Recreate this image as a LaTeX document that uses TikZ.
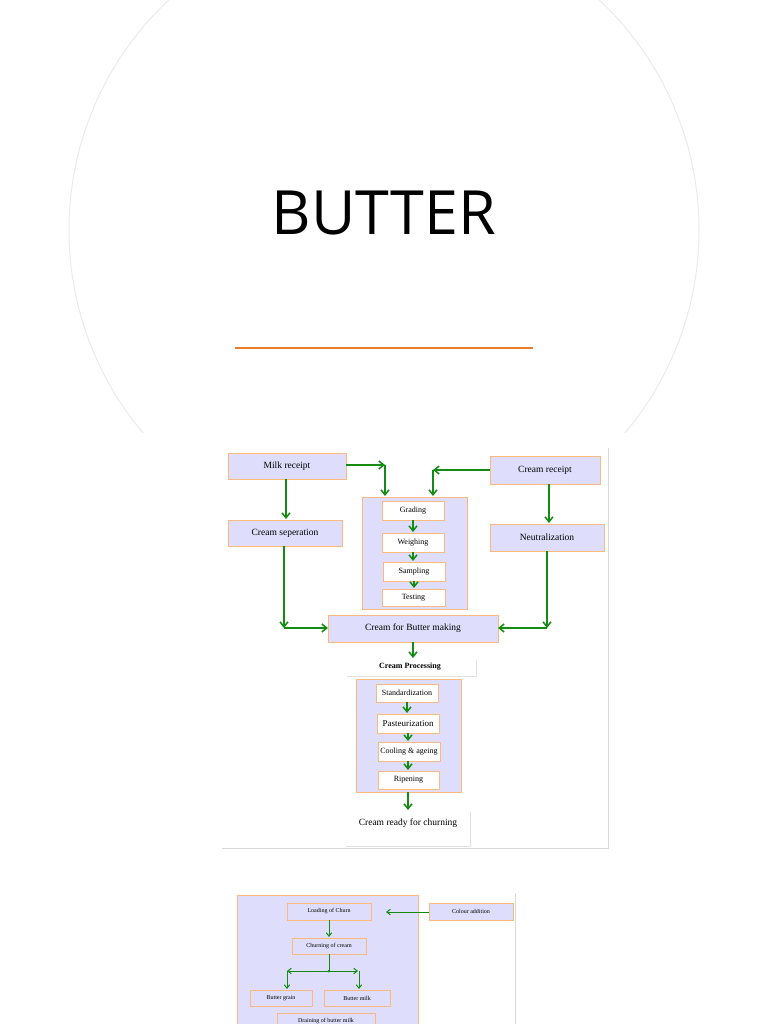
\documentclass[tikz,border=0pt]{standalone}
\usepackage{fontspec}
\setmainfont{Liberation Serif}
\newfontfamily\titlefont{Open Sans}
\usetikzlibrary{arrows.meta}
\definecolor{lav}{RGB}{222,222,252}
\definecolor{obord}{RGB}{250,185,125}
\definecolor{arrg}{RGB}{20,140,20}
\definecolor{titleor}{RGB}{237,125,49}
\tikzset{
 lbox/.style={draw=obord,fill=lav,line width=1pt},
 wbox/.style={draw=obord,fill=white,line width=0.9pt},
 garr/.style={draw=arrg,line width=1.3pt,-{Straight Barb[length=5pt,width=8pt,line width=1.5pt]}},
 txt/.style={font=\fontsize{9.5}{10}\selectfont},
 stxt/.style={font=\fontsize{8}{8}\selectfont},
 ttxt/.style={font=\fontsize{6}{6}\selectfont},
}
\begin{document}
\begin{tikzpicture}[x=1pt,y=-1pt]
\useasboundingbox[fill=white] (0,0) rectangle (768,1024);
\begin{scope}
\clip (0,0) rectangle (768,432);
\draw[black!8,line width=1pt] (384,230) circle (315);
\end{scope}
\node[font=\titlefont\fontsize{61}{66}\selectfont] (title) at (384,213) {BUTTER};
\draw[titleor,line width=1.2pt] (235,348) -- (533,348);
% panel 1
\draw[black!15,line width=1pt] (608,448) -- (608,848) -- (222,848);
\path[lbox] (228,453) rectangle (346,479) node[midway,txt] (milk) {Milk receipt};
\path[lbox] (490,456) rectangle (600,484) node[midway,txt] (crec) {Cream receipt};
\path[lbox] (228,520) rectangle (342,546) node[midway,txt] (csep) {Cream seperation};
\path[lbox] (490,524) rectangle (604,551) node[midway,txt] (neut) {Neutralization};
\path[lbox] (362,497) rectangle (467,609);
\path[wbox] (382,501) rectangle (444,520) node[midway,stxt] (grad) {Grading};
\path[wbox] (382,533) rectangle (444,552) node[midway,stxt] (weig) {Weighing};
\path[wbox] (383,562) rectangle (445,581) node[midway,stxt] (samp) {Sampling};
\path[wbox] (382,589) rectangle (445,606) node[midway,stxt] (test) {Testing};
\path[lbox] (328,615) rectangle (498,642) node[midway,txt] (cbm) {Cream for Butter making};
\draw[black!12,line width=1pt] (347,676) -- (476,676) -- (476,660);
\node[font=\bfseries\fontsize{8}{8}\selectfont] (cproc) at (410,667) {Cream Processing};
\path[lbox] (356,679) rectangle (461,792);
\path[wbox] (376,684) rectangle (438,702) node[midway,stxt] (std) {Standardization};
\path[wbox] (377,714) rectangle (439,733) node[midway,font=\fontsize{9}{9}\selectfont] (past) {Pasteurization};
\path[wbox] (378,742) rectangle (440,761) node[midway,stxt] (cool) {Cooling \& ageing};
\path[wbox] (378,771) rectangle (439,789) node[midway,stxt] (rip) {Ripening};
\draw[black!12,line width=1pt] (346,846) -- (470,846) -- (470,812);
\node[txt] (ready) at (408,823) {Cream ready for churning};
% arrows panel 1
\coordinate (m1) at (346,465); \coordinate (m2) at (385,465); \coordinate (m3) at (385,496);
\draw[garr] (m1) -- (m2);
\draw[garr] (m2) -- (m3);
\coordinate (c1) at (490,470); \coordinate (c2) at (433,470); \coordinate (c3) at (433,496);
\draw[garr] (c1) -- (c2);
\draw[garr] (c2) -- (c3);
\draw[garr] (286,479) -- (286,519);
\draw[garr] (549,484) -- (549,523);
\draw[garr] (284,546) -- (284,628);
\draw[garr] (284,628) -- (328,628);
\draw[garr] (547,551) -- (547,628);
\draw[garr] (547,628) -- (498,628);
\draw[garr] (413,520) -- (413,532);
\draw[garr] (413,552) -- (413,561);
\draw[garr] (414,581) -- (414,588);
\draw[garr] (413,642) -- (413,658);
\draw[garr] (407,702) -- (407,713);
\draw[garr] (408,733) -- (408,741);
\draw[garr] (408,761) -- (408,770);
\draw[garr] (408,792) -- (408,810);
% panel 3
\draw[black!15,line width=1pt] (515,893) -- (515,1024);
\path[lbox] (237,895) rectangle (418,1030);
\path[wbox,fill=lav] (287,903) rectangle (371,920) node[midway,ttxt] (load) {Loading of Churn};
\path[lbox] (429,903) rectangle (513,920) node[midway,ttxt] (col) {Colour addition};
\path[wbox,fill=lav] (292,938) rectangle (366,954) node[midway,ttxt] (churn) {Churning of cream};
\path[wbox,fill=lav] (250,990) rectangle (312,1006) node[midway,ttxt] (bg) {Butter grain};
\path[wbox,fill=lav] (324,990) rectangle (390,1006) node[midway,ttxt] (bm) {Butter milk};
\path[wbox,fill=lav] (277,1013) rectangle (375,1030) node[midway,ttxt] (drain) {Draining of butter milk};
\tikzset{sarr/.style={draw=arrg,line width=0.9pt,-{Straight Barb[length=3.5pt,width=5.5pt,line width=1pt]}}}
\draw[sarr] (429,912) -- (386,912);
\draw[sarr] (329,920) -- (329,937);
\coordinate (j) at (329,971);
\draw[draw=arrg,line width=1pt] (329,954) -- (j);
\fill[arrg] (j) circle (1.5);
\draw[sarr] (j) -- (287,971);
\draw[sarr] (j) -- (358,971);
\draw[sarr] (287,971) -- (287,989);
\draw[sarr] (359,971) -- (359,989);
\end{tikzpicture}
\end{document}
